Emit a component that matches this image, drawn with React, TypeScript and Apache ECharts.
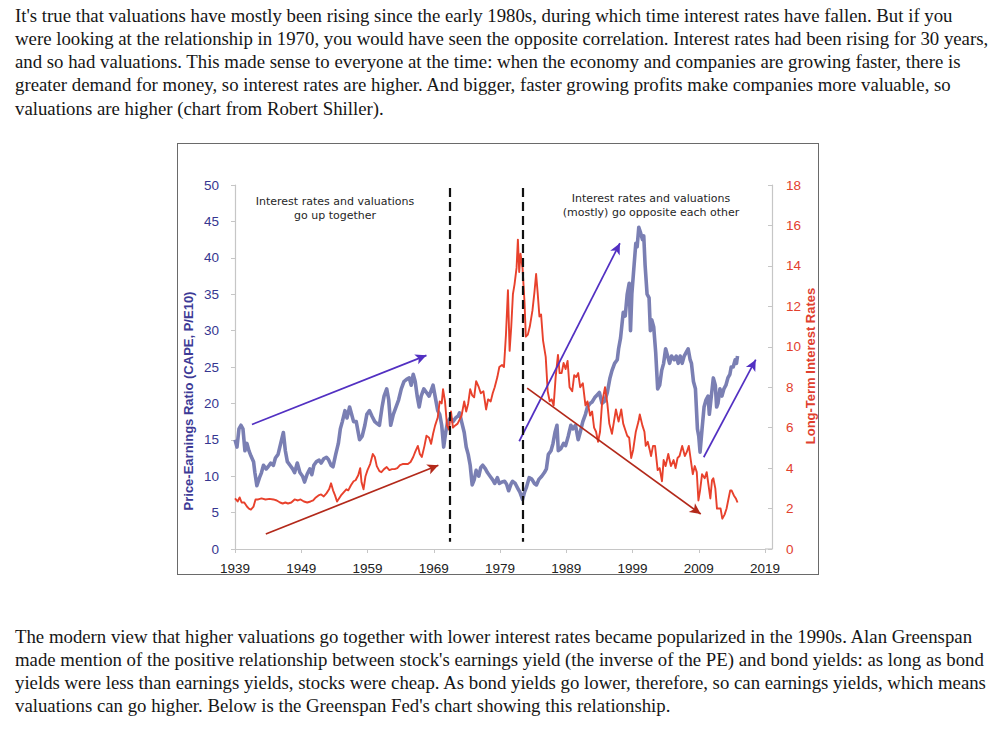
import React, { useEffect, useRef } from 'react';
import * as echarts from 'echarts';

const topLines = [
  "It's true that valuations have mostly been rising since the early 1980s, during which time interest rates have fallen. But if you",
  'were looking at the relationship in 1970, you would have seen the opposite correlation. Interest rates had been rising for 30 years,',
  'and so had valuations. This made sense to everyone at the time: when the economy and companies are growing faster, there is',
  'greater demand for money, so interest rates are higher. And bigger, faster growing profits make companies more valuable, so',
  'valuations are higher (chart from Robert Shiller).',
];

const bottomLines = [
  'The modern view that higher valuations go together with lower interest rates became popularized in the 1990s. Alan Greenspan',
  "made mention of the positive relationship between stock's earnings yield (the inverse of the PE) and bond yields: as long as bond",
  'yields were less than earnings yields, stocks were cheap. As bond yields go lower, therefore, so can earnings yields, which means',
  "valuations can go higher. Below is the Greenspan Fed's chart showing this relationship.",
];

const baseYear = 1939;
const lastTickYear = 2019;
const peTicks = { min: 0, max: 50, step: 5 };
const rateTicks = { min: 0, max: 18, step: 2 };

const leftAxisName = 'Price-Earnings Ratio (CAPE, P/E10)';
const rightAxisName = 'Long-Term Interest Rates';
const noteLeft = 'Interest rates and valuations\ngo up together';
const noteRight = 'Interest rates and valuations\n(mostly) go opposite each other';

// CAPE (P/E10) — [year, value]
const capePoints: [number, number][] = [
  [1939.0, 15.0], [1939.3, 14.0], [1939.6, 16.5], [1939.9, 17.0], [1940.2, 16.5], [1940.5, 13.5],
  [1940.8, 14.5], [1941.1, 13.5], [1941.4, 12.8], [1941.8, 12.0], [1942.0, 10.5], [1942.3, 8.7],
  [1942.7, 9.8], [1943.0, 10.5], [1943.3, 11.5], [1943.7, 11.0], [1944.0, 11.3], [1944.4, 11.8],
  [1944.8, 11.5], [1945.1, 12.5], [1945.5, 13.0], [1945.9, 14.5], [1946.3, 16.0], [1946.6, 13.5],
  [1946.9, 12.0], [1947.3, 11.5], [1947.7, 11.0], [1948.0, 10.5], [1948.4, 11.8], [1948.8, 10.5],
  [1949.2, 10.0], [1949.5, 9.2], [1949.9, 10.3], [1950.3, 11.0], [1950.6, 10.2], [1950.9, 11.5],
  [1951.3, 12.0], [1951.7, 12.2], [1952.0, 11.8], [1952.4, 12.4], [1952.8, 12.6], [1953.1, 12.3],
  [1953.5, 11.5], [1953.8, 11.3], [1954.2, 13.0], [1954.6, 14.5], [1954.9, 16.5], [1955.2, 17.5],
  [1955.6, 19.0], [1955.9, 18.0], [1956.3, 19.5], [1956.6, 18.5], [1956.9, 17.5], [1957.3, 17.5],
  [1957.8, 15.0], [1958.2, 15.5], [1958.6, 17.0], [1958.9, 18.5], [1959.3, 19.0], [1959.7, 18.2],
  [1960.1, 17.5], [1960.5, 17.2], [1960.8, 17.0], [1961.2, 19.5], [1961.5, 21.0], [1961.9, 22.0],
  [1962.2, 20.5], [1962.5, 17.0], [1962.9, 18.5], [1963.3, 19.5], [1963.7, 20.5], [1964.1, 22.0],
  [1964.5, 23.0], [1964.9, 23.3], [1965.3, 23.5], [1965.6, 22.5], [1965.9, 24.0], [1966.2, 23.0],
  [1966.5, 21.0], [1966.8, 19.5], [1967.1, 21.0], [1967.5, 22.0], [1967.9, 21.5], [1968.3, 21.0],
  [1968.7, 22.0], [1968.9, 22.5], [1969.2, 21.0], [1969.6, 19.0], [1969.9, 18.5], [1970.2, 17.0],
  [1970.5, 14.0], [1970.8, 16.0], [1971.1, 17.5], [1971.5, 18.0], [1971.9, 17.5], [1972.3, 18.0],
  [1972.7, 18.3], [1972.9, 18.7], [1973.2, 17.5], [1973.6, 16.0], [1973.9, 14.0], [1974.2, 13.0],
  [1974.5, 11.5], [1974.8, 8.8], [1975.1, 9.5], [1975.4, 10.8], [1975.8, 10.0], [1976.1, 11.2],
  [1976.4, 11.5], [1976.8, 11.0], [1977.1, 10.5], [1977.5, 10.0], [1977.9, 9.5], [1978.2, 9.0],
  [1978.6, 9.8], [1978.9, 9.0], [1979.3, 9.2], [1979.7, 9.3], [1980.0, 8.9], [1980.3, 8.0],
  [1980.7, 9.0], [1980.9, 9.3], [1981.3, 9.0], [1981.7, 8.3], [1982.0, 7.8], [1982.4, 6.8],
  [1982.7, 7.8], [1983.0, 8.5], [1983.4, 9.8], [1983.8, 9.6], [1984.2, 9.0], [1984.5, 8.8],
  [1984.9, 9.6], [1985.3, 10.0], [1985.7, 10.5], [1986.0, 11.0], [1986.3, 13.0], [1986.7, 13.5],
  [1987.0, 14.5], [1987.3, 16.0], [1987.6, 17.0], [1987.8, 13.5], [1988.2, 13.8], [1988.6, 14.5],
  [1988.9, 14.2], [1989.3, 15.5], [1989.7, 17.0], [1990.0, 16.5], [1990.4, 17.0], [1990.8, 15.0],
  [1991.1, 16.0], [1991.5, 17.5], [1991.9, 18.5], [1992.2, 19.5], [1992.6, 20.0], [1992.9, 20.2],
  [1993.3, 20.8], [1993.7, 21.2], [1994.0, 21.5], [1994.4, 20.0], [1994.8, 20.3], [1995.2, 21.5],
  [1995.6, 23.5], [1995.9, 24.5], [1996.3, 25.5], [1996.7, 26.0], [1996.9, 27.5], [1997.2, 29.0],
  [1997.6, 32.5], [1997.9, 32.0], [1998.2, 35.0], [1998.5, 36.5], [1998.7, 30.0], [1998.9, 35.0],
  [1999.2, 38.5], [1999.5, 42.0], [1999.7, 41.5], [1999.95, 44.2], [2000.2, 43.5], [2000.5, 42.5],
  [2000.7, 43.0], [2000.9, 39.0], [2001.2, 35.0], [2001.5, 34.5], [2001.7, 30.0], [2001.9, 31.5],
  [2002.2, 30.5], [2002.5, 27.0], [2002.8, 22.0], [2003.1, 22.5], [2003.4, 24.5], [2003.7, 25.5],
  [2004.0, 27.5], [2004.3, 26.5], [2004.6, 25.5], [2004.9, 26.5], [2005.3, 26.0], [2005.6, 26.5],
  [2005.9, 25.5], [2006.2, 26.5], [2006.5, 25.5], [2006.8, 26.5], [2007.1, 27.0], [2007.4, 27.5],
  [2007.7, 26.0], [2007.9, 25.5], [2008.2, 23.0], [2008.5, 22.0], [2008.8, 16.5], [2009.0, 15.5],
  [2009.2, 13.3], [2009.5, 16.5], [2009.8, 19.5], [2010.1, 20.5], [2010.4, 21.0], [2010.6, 18.5],
  [2010.9, 21.0], [2011.2, 23.5], [2011.5, 22.5], [2011.7, 19.5], [2011.9, 20.0], [2012.2, 22.0],
  [2012.5, 21.0], [2012.8, 22.0], [2013.1, 22.5], [2013.4, 23.5], [2013.7, 24.0], [2013.9, 25.0],
  [2014.2, 25.0], [2014.5, 26.0], [2014.7, 25.5], [2014.85, 26.5],
];

// Long-term interest rate (%) — [year, value]
const ratePoints: [number, number][] = [
  [1939.0, 2.5], [1939.4, 2.35], [1939.7, 2.55], [1940.0, 2.3], [1940.4, 2.3], [1940.8, 2.1],
  [1941.1, 2.0], [1941.4, 1.95], [1941.8, 2.1], [1942.1, 2.45], [1942.5, 2.45], [1943.0, 2.5],
  [1943.6, 2.45], [1944.2, 2.48], [1944.8, 2.45], [1945.3, 2.4], [1945.8, 2.3], [1946.2, 2.25],
  [1946.6, 2.3], [1947.0, 2.25], [1947.5, 2.3], [1948.0, 2.45], [1948.5, 2.4], [1948.9, 2.45],
  [1949.4, 2.35], [1949.9, 2.3], [1950.4, 2.35], [1950.8, 2.4], [1951.2, 2.55], [1951.6, 2.65],
  [1952.0, 2.7], [1952.4, 2.6], [1952.8, 2.75], [1953.2, 2.95], [1953.5, 3.25], [1953.8, 2.9],
  [1954.1, 2.65], [1954.4, 2.35], [1954.7, 2.5], [1955.0, 2.65], [1955.4, 2.8], [1955.8, 2.95],
  [1956.1, 2.9], [1956.5, 3.15], [1956.9, 3.35], [1957.2, 3.4], [1957.6, 3.65], [1957.9, 4.0],
  [1958.1, 3.3], [1958.4, 2.95], [1958.7, 3.6], [1959.0, 3.9], [1959.4, 4.2], [1959.8, 4.7],
  [1960.1, 4.55], [1960.4, 4.1], [1960.8, 3.85], [1961.1, 3.8], [1961.5, 3.95], [1961.9, 4.05],
  [1962.3, 3.9], [1962.7, 3.95], [1963.1, 3.95], [1963.5, 4.0], [1963.9, 4.15], [1964.3, 4.2],
  [1964.7, 4.2], [1965.1, 4.2], [1965.5, 4.3], [1965.9, 4.55], [1966.2, 4.8], [1966.6, 5.1],
  [1966.9, 4.7], [1967.2, 4.55], [1967.6, 5.1], [1967.9, 5.6], [1968.3, 5.5], [1968.6, 5.2],
  [1968.9, 5.7], [1969.2, 6.1], [1969.6, 6.5], [1969.9, 7.3], [1970.2, 7.2], [1970.4, 7.9],
  [1970.7, 7.3], [1971.0, 6.1], [1971.3, 5.9], [1971.6, 6.8], [1971.9, 6.0], [1972.2, 6.1],
  [1972.6, 6.2], [1972.9, 6.4], [1973.2, 6.6], [1973.6, 7.3], [1973.9, 6.8], [1974.2, 7.2],
  [1974.5, 7.9], [1974.8, 7.6], [1975.1, 7.5], [1975.4, 8.3], [1975.8, 8.0], [1976.1, 7.7],
  [1976.5, 7.8], [1976.9, 6.9], [1977.2, 7.4], [1977.6, 7.3], [1977.9, 7.7], [1978.2, 8.0],
  [1978.6, 8.5], [1978.9, 9.0], [1979.3, 9.1], [1979.6, 9.0], [1979.9, 10.6], [1980.2, 12.8],
  [1980.45, 9.8], [1980.7, 11.0], [1980.95, 12.6], [1981.2, 13.1], [1981.5, 13.9], [1981.7, 15.3],
  [1981.9, 13.7], [1982.1, 14.6], [1982.4, 13.9], [1982.7, 12.2], [1982.9, 10.5], [1983.2, 10.6],
  [1983.5, 11.0], [1983.9, 11.8], [1984.2, 12.7], [1984.45, 13.6], [1984.7, 12.6], [1984.95, 11.5],
  [1985.2, 11.6], [1985.5, 10.3], [1985.9, 9.5], [1986.2, 7.8], [1986.5, 7.3], [1986.8, 7.4],
  [1987.1, 7.1], [1987.4, 8.5], [1987.75, 9.6], [1988.0, 8.7], [1988.3, 8.7], [1988.6, 9.2],
  [1988.9, 8.9], [1989.2, 9.3], [1989.5, 8.0], [1989.9, 7.8], [1990.2, 8.6], [1990.5, 8.5],
  [1990.8, 8.7], [1991.1, 8.0], [1991.5, 8.2], [1991.9, 7.1], [1992.2, 7.3], [1992.6, 6.6],
  [1992.9, 6.8], [1993.2, 6.0], [1993.5, 5.8], [1993.8, 5.3], [1994.1, 5.8], [1994.4, 7.2],
  [1994.85, 8.0], [1995.2, 7.2], [1995.5, 6.2], [1995.9, 5.7], [1996.2, 6.3], [1996.5, 6.9],
  [1996.9, 6.3], [1997.3, 6.9], [1997.6, 6.2], [1997.9, 5.9], [1998.2, 5.6], [1998.5, 5.5],
  [1998.8, 4.5], [1999.1, 4.9], [1999.5, 5.8], [1999.9, 6.3], [2000.1, 6.65], [2000.5, 6.1],
  [2000.8, 5.8], [2001.0, 5.1], [2001.3, 5.3], [2001.6, 4.9], [2001.8, 4.6], [2002.1, 5.1],
  [2002.4, 5.1], [2002.8, 3.9], [2003.1, 4.0], [2003.45, 3.35], [2003.7, 4.4], [2004.0, 4.1],
  [2004.4, 4.7], [2004.8, 4.1], [2005.2, 4.4], [2005.5, 4.0], [2005.8, 4.5], [2006.1, 4.6],
  [2006.5, 5.1], [2006.9, 4.6], [2007.2, 4.8], [2007.5, 5.1], [2007.8, 4.4], [2008.1, 3.7],
  [2008.4, 4.1], [2008.7, 3.8], [2008.95, 2.4], [2009.2, 2.9], [2009.5, 3.7], [2009.9, 3.5],
  [2010.2, 3.8], [2010.5, 3.1], [2010.75, 2.5], [2011.0, 3.4], [2011.2, 3.5], [2011.5, 3.0],
  [2011.75, 2.0], [2012.0, 2.0], [2012.3, 2.0], [2012.55, 1.5], [2012.9, 1.7], [2013.2, 2.0],
  [2013.5, 2.5], [2013.75, 2.9], [2013.95, 2.9], [2014.3, 2.65], [2014.6, 2.5], [2014.85, 2.3],
];

// Vertical dashed dividers: years, and the P/E span they cover
const dividerYears = [1971.46, 1982.48];
const dividerSpan = [49.6, 1.0];

// Trend arrows, in [year, P/E] coordinates
const purpleArrows: [number, number][][] = [
  [[1941.56, 17.1], [1967.9, 26.6]],
  [[1981.9, 14.8], [1997.1, 42.0]],
  [[2009.75, 12.6], [2017.6, 26.0]],
];
const redArrows: [number, number][][] = [
  [[1943.65, 2.05], [1969.7, 11.5]],
  [[1983.1, 22.1], [2009.3, 4.8]],
];

const BLUE = '#7a7fb3';
const RED = '#e8412c';
const PURPLE = '#5230c2';
const DARKRED = '#b3291a';
const NAVY = '#363690';
const AXIS = '#c6c6c6';
const SANS = 'Liberation Sans, Arial, sans-serif';

const toX = (y: number) => y - baseYear;

export default function App() {
  const ref = useRef<HTMLDivElement>(null);

  useEffect(() => {
    if (!ref.current) return;
    const chart = echarts.init(ref.current, undefined, { renderer: 'svg' });
    const arrowData = [
      ...purpleArrows.map((a) => [
        { coord: [toX(a[0][0]), a[0][1]], lineStyle: { color: PURPLE, width: 1.7, type: 'solid' } },
        { coord: [toX(a[1][0]), a[1][1]] },
      ]),
      ...redArrows.map((a) => [
        { coord: [toX(a[0][0]), a[0][1]], lineStyle: { color: DARKRED, width: 1.7, type: 'solid' } },
        { coord: [toX(a[1][0]), a[1][1]] },
      ]),
    ];
    const dividerData = dividerYears.map((yr) => [
      { coord: [toX(yr), dividerSpan[0]] },
      { coord: [toX(yr), dividerSpan[1]] },
    ]);
    chart.setOption({
      animation: false,
      backgroundColor: '#ffffff',
      grid: { left: 57, right: 53, top: 41, bottom: 25, containLabel: false, outerBoundsMode: 'none' },
      xAxis: {
        type: 'value',
        min: 0,
        max: lastTickYear - baseYear,
        interval: 10,
        axisLine: { lineStyle: { color: AXIS, width: 1.2 } },
        axisTick: { show: true, length: 4, lineStyle: { color: AXIS } },
        splitLine: { show: false },
        axisLabel: {
          formatter: (v: number) => String(baseYear + v),
          color: '#222',
          fontSize: 13.5,
          fontFamily: SANS,
          margin: 12,
        },
      },
      yAxis: [
        {
          type: 'value',
          min: peTicks.min,
          max: peTicks.max,
          interval: peTicks.step,
          position: 'left',
          axisLine: { show: true, lineStyle: { color: AXIS, width: 1.2 } },
          axisTick: { show: true, length: 4, lineStyle: { color: AXIS } },
          splitLine: { show: false },
          axisLabel: { color: NAVY, fontSize: 13.5, fontFamily: SANS, margin: 16 },
        },
        {
          type: 'value',
          min: rateTicks.min,
          max: rateTicks.max,
          interval: rateTicks.step,
          position: 'right',
          offset: 7,
          axisLine: { show: true, lineStyle: { color: AXIS, width: 1.2 } },
          axisTick: { show: true, inside: true, length: 4, lineStyle: { color: AXIS } },
          splitLine: { show: false },
          axisLabel: { color: '#e2412e', fontSize: 13.5, fontFamily: SANS, margin: 14 },
        },
      ],
      series: [
        {
          name: 'CAPE',
          type: 'line',
          xAxisIndex: 0,
          yAxisIndex: 0,
          data: capePoints.map(([y, v]) => [toX(y), v]),
          showSymbol: false,
          symbol: 'none',
          lineStyle: { color: BLUE, width: 3.6, join: 'round' },
          z: 2,
          silent: true,
        },
        {
          name: 'Rates',
          type: 'line',
          xAxisIndex: 0,
          yAxisIndex: 1,
          data: ratePoints.map(([y, v]) => [toX(y), v]),
          showSymbol: false,
          symbol: 'none',
          lineStyle: { color: RED, width: 1.9, join: 'round' },
          z: 3,
          silent: true,
        },
        {
          name: 'arrows',
          type: 'line',
          xAxisIndex: 0,
          yAxisIndex: 0,
          data: [],
          z: 4,
          silent: true,
          markLine: {
            silent: true,
            symbol: ['none', 'arrow'],
            symbolSize: [8, 11],
            label: { show: false },
            emphasis: { disabled: true },
            data: arrowData,
          },
        },
        {
          name: 'dividers',
          type: 'line',
          xAxisIndex: 0,
          yAxisIndex: 0,
          data: [],
          z: 5,
          silent: true,
          markLine: {
            silent: true,
            symbol: ['none', 'none'],
            label: { show: false },
            emphasis: { disabled: true },
            lineStyle: { color: '#111', width: 2.2, type: [9, 5] },
            data: dividerData,
          },
        },
      ],
      graphic: [
        {
          type: 'line',
          shape: { x1: 587, y1: 405, x2: 594, y2: 405 },
          style: { stroke: AXIS, lineWidth: 1.2 },
          silent: true,
        },
        {
          type: 'text',
          x: 10,
          y: 257,
          rotation: Math.PI / 2,
          style: {
            text: leftAxisName,
            fill: '#3d3a96',
            font: `bold 13px ${SANS}`,
            align: 'center',
            verticalAlign: 'middle',
          },
        },
        {
          type: 'text',
          x: 632,
          y: 222,
          rotation: Math.PI / 2,
          style: {
            text: rightAxisName,
            fill: '#e0402f',
            font: `bold 13px ${SANS}`,
            align: 'center',
            verticalAlign: 'middle',
          },
        },
        {
          type: 'text',
          x: 157,
          y: 64,
          style: {
            text: noteLeft,
            fill: '#262626',
            font: '11px DejaVu Sans, sans-serif',
            lineHeight: 14,
            align: 'center',
            verticalAlign: 'middle',
          },
        },
        {
          type: 'text',
          x: 473,
          y: 61,
          style: {
            text: noteRight,
            fill: '#262626',
            font: '11px DejaVu Sans, sans-serif',
            lineHeight: 14,
            align: 'center',
            verticalAlign: 'middle',
          },
        },
      ],
    });
    return () => chart.dispose();
  }, []);

  const textStyle: React.CSSProperties = {
    position: 'absolute',
    left: 15,
    fontFamily: '"Liberation Serif", "Times New Roman", serif',
    fontSize: 18.8,
    lineHeight: '23.3px',
    color: '#161616',
    whiteSpace: 'nowrap',
  };

  return (
    <div style={{ position: 'absolute', left: 0, top: 0, width: 1004, height: 731, background: '#fff', overflow: 'hidden' }}>
      <div style={{ ...textStyle, top: 3.5 }}>
        {topLines.map((l, i) => (
          <div key={i}>{l}</div>
        ))}
      </div>
      <div
        style={{
          position: 'absolute',
          left: 177,
          top: 143,
          width: 640,
          height: 430,
          border: '1px solid #6a6a6a',
          overflow: 'hidden',
          background: '#fff',
        }}
      >
        <div ref={ref} style={{ width: 640, height: 430 }} />
      </div>
      <div style={{ ...textStyle, top: 624.5 }}>
        {bottomLines.map((l, i) => (
          <div key={i}>{l}</div>
        ))}
      </div>
    </div>
  );
}
